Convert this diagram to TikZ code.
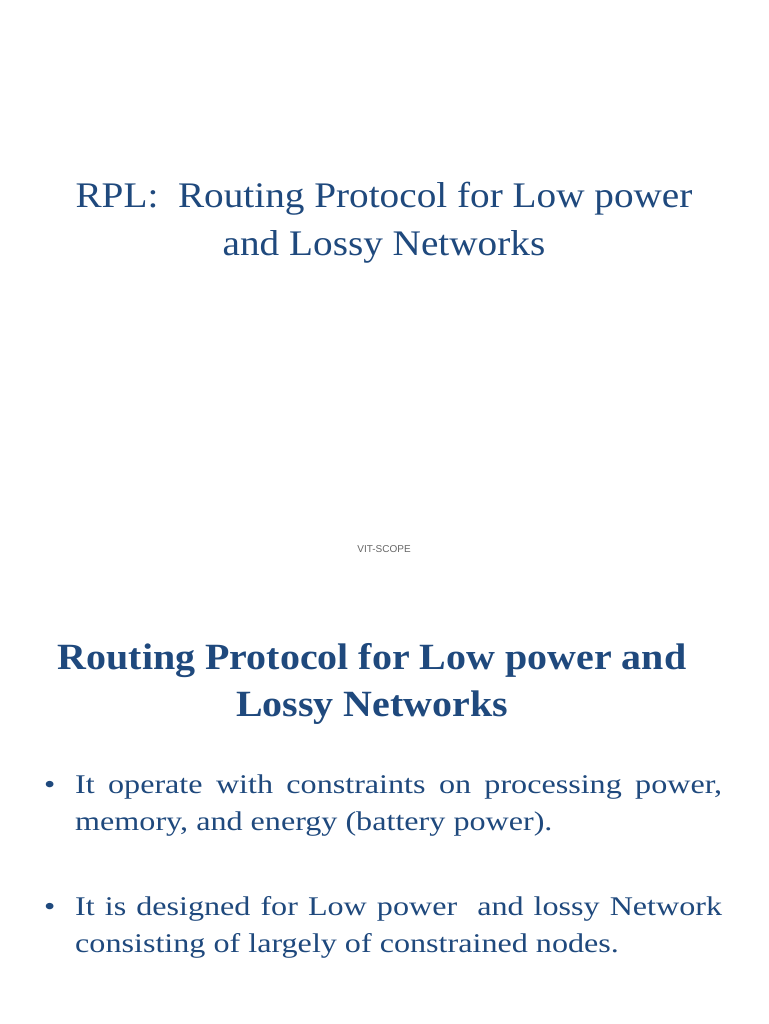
\documentclass[tikz,border=0pt]{standalone}
\usepackage{fontspec}
\setmainfont{Liberation Serif}
\setsansfont{Liberation Sans}
\newfontfamily\ttlfont[FakeStretch=1.09]{Liberation Serif}
\newfontfamily\hdfont[FakeStretch=1.08]{Liberation Serif}
\newfontfamily\blfont[FakeStretch=1.19]{Liberation Serif}
\definecolor{tblue}{HTML}{1F497D}
\begin{document}
\begin{tikzpicture}[x=1pt,y=-1pt,
  ttl/.style={anchor=base,text=tblue,font=\ttlfont\fontsize{36}{40}\selectfont,inner sep=0},
  hd/.style={anchor=base,text=tblue,font=\hdfont\fontsize{37}{42}\selectfont\bfseries,inner sep=0},
  bl/.style={anchor=base west,text=tblue,font=\blfont\fontsize{27}{30}\selectfont,inner sep=0}]
\fill[white] (0,0) rectangle (768,1024);
\node[ttl] (t1) at (384,208) {RPL:\ \ Routing Protocol for Low power};
\node[ttl] (t2) at (384,255) {and Lossy Networks};
\node[anchor=base,text=black!60,font=\sffamily\fontsize{10}{12}\selectfont,inner sep=0] (f) at (384,552) {VIT-SCOPE};
\node[hd] (h1) at (372,669) {Routing Protocol for Low power and};
\node[hd] (h2) at (372,716) {Lossy Networks};
\node[bl] (b1) at (44,793) {\textbullet};
\node[bl] (l1) at (75,793) {\makebox[647pt][s]{It operate with constraints on processing power,}};
\node[bl] (l2) at (75,830) {memory, and energy (battery power).};
\node[bl] (b2) at (44,915) {\textbullet};
\node[bl] (l3) at (75,915) {\makebox[647pt][s]{It is designed for Low power\ \ and lossy Network}};
\node[bl] (l4) at (75,952) {consisting of largely of constrained nodes.};
\end{tikzpicture}
\end{document}
